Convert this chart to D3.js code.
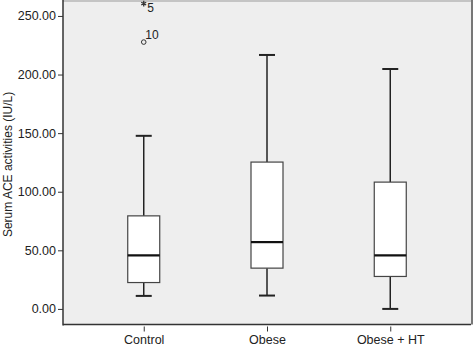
<!DOCTYPE html>
<html><head><meta charset="utf-8">
<script src="https://cdn.jsdelivr.net/npm/d3@7"></script>
<style>body{margin:0;background:#fff}svg{display:block}text{font-family:"Liberation Sans",Arial,sans-serif}</style>
</head><body>
<script>
const categories = ["Control", "Obese", "Obese + HT"];
const whiskerLow = [11.1, 11.4, 0];
const q1 = [22.5, 34.8, 27.7];
const median = [45.6, 57, 45.6];
const q3 = [79.4, 125.3, 108.2];
const whiskerHigh = [147.7, 216.7, 204.7];
const outliers = [
  {cat: "Control", value: 227.7, label: "10", type: "circle"},
  {cat: "Control", value: 260.5, label: "5", type: "star"}
];
const yTicks = [0, 50, 100, 150, 200, 250];
const yLabel = "Serum ACE activities (IU/L)";

(function () {
const W = 474, H = 348;
const pLeft = 63, pRight = 471, pTop = 0, pBottom = 324.5;
const svg = d3.select("body").append("svg").attr("width", W).attr("height", H);

const y = d3.scaleLinear().domain([-13.3, 263.6]).range([pBottom, pTop]);
const x = d3.scalePoint().domain(categories).range([pLeft, pRight]).padding(0.655);

svg.append("rect").attr("x", pLeft).attr("y", pTop).attr("width", pRight - pLeft).attr("height", pBottom - pTop).attr("fill", "#eeeeee");
svg.append("line").attr("x1", pLeft).attr("x2", pRight).attr("y1", 1).attr("y2", 1).attr("stroke", "#c4c4c4").attr("stroke-width", 2);
svg.append("line").attr("x1", pRight + 1).attr("x2", pRight + 1).attr("y1", 0).attr("y2", pBottom).attr("stroke", "#777").attr("stroke-width", 2);

const yAxis = svg.append("g").attr("transform", `translate(${pLeft},0)`)
  .call(d3.axisLeft(y).tickValues(yTicks).tickFormat(d3.format(".2f")).tickSize(5).tickSizeOuter(0));
yAxis.select(".domain").remove();
yAxis.selectAll("line").attr("stroke", "#333");
yAxis.selectAll("text").attr("font-size", 12.5).attr("fill", "#222").attr("x", -7);
svg.append("line").attr("x1", pLeft).attr("x2", pLeft).attr("y1", 0).attr("y2", pBottom + 1).attr("stroke", "#333").attr("stroke-width", 1.5);

const xAxis = svg.append("g").attr("transform", `translate(0,${pBottom})`)
  .call(d3.axisBottom(x).tickSize(6).tickSizeOuter(0).tickPadding(6));
xAxis.select(".domain").remove();
xAxis.selectAll("line").attr("stroke", "#333").attr("y1", 2).attr("y2", 7);
xAxis.selectAll("text").attr("font-size", 12.5).attr("fill", "#222").attr("y", 11);
svg.append("line").attr("x1", pLeft).attr("x2", pRight).attr("y1", pBottom).attr("y2", pBottom).attr("stroke", "#333").attr("stroke-width", 1.5);

svg.append("text").attr("transform", `translate(12,${(y(0)+y(250))/2 + 2}) rotate(-90)`)
  .attr("text-anchor", "middle").attr("font-size", 12).attr("fill", "#222").text(yLabel);

const boxW = 32, capW = 16;
const g = svg.append("g");
categories.forEach((c, i) => {
  const cx = x(c);
  g.append("line").attr("x1", cx).attr("x2", cx).attr("y1", y(whiskerHigh[i])).attr("y2", y(q3[i])).attr("stroke", "#222").attr("stroke-width", 1.5);
  g.append("line").attr("x1", cx).attr("x2", cx).attr("y1", y(q1[i])).attr("y2", y(whiskerLow[i])).attr("stroke", "#222").attr("stroke-width", 1.5);
  g.append("line").attr("x1", cx - capW/2).attr("x2", cx + capW/2).attr("y1", y(whiskerHigh[i])).attr("y2", y(whiskerHigh[i])).attr("stroke", "#222").attr("stroke-width", 2);
  g.append("line").attr("x1", cx - capW/2).attr("x2", cx + capW/2).attr("y1", y(whiskerLow[i])).attr("y2", y(whiskerLow[i])).attr("stroke", "#222").attr("stroke-width", 2);
  g.append("rect").attr("x", cx - boxW/2).attr("y", y(q3[i])).attr("width", boxW).attr("height", y(q1[i]) - y(q3[i]))
    .attr("fill", "#fff").attr("stroke", "#444").attr("stroke-width", 1.2);
  g.append("line").attr("x1", cx - boxW/2).attr("x2", cx + boxW/2).attr("y1", y(median[i])).attr("y2", y(median[i])).attr("stroke", "#111").attr("stroke-width", 2.2);
});

outliers.forEach(o => {
  const cx = x(o.cat), cy = y(o.value);
  if (o.type === "circle") {
    svg.append("circle").attr("cx", cx).attr("cy", cy).attr("r", 2.3).attr("fill", "none").attr("stroke", "#333").attr("stroke-width", 1);
    svg.append("text").attr("x", cx + 1.5).attr("y", cy - 3.5).attr("font-size", 12).attr("fill", "#222").text(o.label);
  } else {
    svg.append("path").attr("d", d3.symbol(d3.symbolAsterisk, 22)()).attr("transform", `translate(${cx},${cy})`).attr("stroke", "#333").attr("stroke-width", 1.3);
    svg.append("text").attr("x", cx + 3.5).attr("y", cy + 8.5).attr("font-size", 12).attr("fill", "#222").text(o.label);
  }
});
})();
</script>
</body></html>
